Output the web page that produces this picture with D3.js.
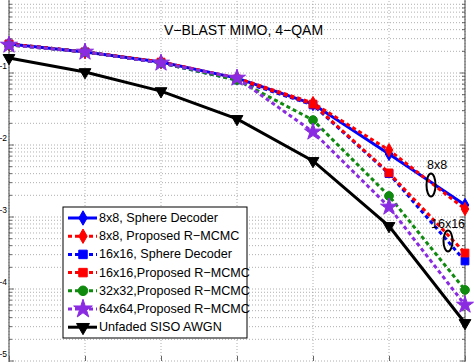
<!DOCTYPE html>
<html><head><meta charset="utf-8">
<script src="https://cdn.jsdelivr.net/npm/d3@7"></script>
<style>body{margin:0;background:#fff}svg{display:block}</style>
</head><body>
<svg id="c" width="474" height="362"></svg>
<script>
const snr = [0, 2, 4, 6, 8, 10, 12];
const ber8SD  = [0.253, 0.196, 0.142, 0.085, 0.037, 0.0075, 0.00147];
const ber8MC  = [0.253, 0.196, 0.142, 0.085, 0.0383, 0.0085, 0.00129];
const ber16SD = [0.253, 0.196, 0.138, 0.080, 0.036, 0.0040, 0.000245];
const ber16MC = [0.253, 0.196, 0.142, 0.0825, 0.037, 0.0041, 0.000316];
const ber32MC = [0.245, 0.196, 0.138, 0.080, 0.0222, 0.00196, 0.000097];
const ber64MC = [0.245, 0.196, 0.138, 0.0853, 0.0152, 0.00138, 0.000060];
const awgn    = [0.162, 0.103, 0.056, 0.023, 0.0060, 0.00075, 0.0000337];
const seriesNames = ["8x8, Sphere Decoder", "8x8, Proposed R\u2212MCMC", "16x16, Sphere Decoder",
  "16x16,Proposed R\u2212MCMC", "32x32,Proposed R\u2212MCMC", "64x64,Proposed R\u2212MCMC", "Unfaded SISO AWGN"];
const yTickLabels = ["-1", "-2", "-3", "-4", "-5"];
const title = "V\u2212BLAST MIMO, 4\u2212QAM";

const svg = d3.select("#c");
const x = d3.scaleLinear().domain([0, 12]).range([9, 465]);
const y = d3.scaleLog().domain([1, 1e-5]).range([1, 361]);

// grid
const g = svg.append("g");
const minor = [];
for (let e = 0; e > -5; e--) for (let m = 1; m < 10; m++) minor.push(m * Math.pow(10, e - 1));
g.selectAll("line.hg").data(minor).enter().append("line")
  .attr("x1", x(0)).attr("x2", x(12)).attr("y1", d => y(d)).attr("y2", d => y(d))
  .attr("stroke", "#9a9a9a").attr("stroke-width", 0.8).attr("stroke-dasharray", "1,2");
g.selectAll("line.vg").data(snr).enter().append("line")
  .attr("x1", d => x(d)).attr("x2", d => x(d)).attr("y1", y(1)).attr("y2", y(1e-5))
  .attr("stroke", "#9a9a9a").attr("stroke-width", 0.8).attr("stroke-dasharray", "1,2");

// axes
svg.append("line").attr("x1", x(0)).attr("x2", x(0)).attr("y1", 0).attr("y2", 362).attr("stroke", "#444").attr("stroke-width", 1);
svg.append("line").attr("x1", x(12)).attr("x2", x(12)).attr("y1", 0).attr("y2", 362).attr("stroke", "#444").attr("stroke-width", 1);
const majors = [1e-1, 1e-2, 1e-3, 1e-4, 1e-5];
const isMajor = d => majors.some(m => Math.abs(m - d) < m * 1e-6);
svg.selectAll("line.rt").data(minor).enter().append("line")
  .attr("x1", x(12)).attr("x2", d => x(12) - (isMajor(d) ? 5 : 3))
  .attr("y1", d => y(d)).attr("y2", d => y(d)).attr("stroke", "#444").attr("stroke-width", 0.8);
svg.selectAll("line.lt").data(minor).enter().append("line")
  .attr("x1", x(0)).attr("x2", d => x(0) + (isMajor(d) ? 5 : 3))
  .attr("y1", d => y(d)).attr("y2", d => y(d)).attr("stroke", "#444").attr("stroke-width", 0.8);
svg.append("g").attr("transform", "translate(0,361)")
  .call(d3.axisTop(x).tickValues(snr).tickSize(5).tickFormat(""))
  .call(s => s.select(".domain").remove())
  .call(s => s.selectAll("line").attr("stroke", "#666"));

svg.selectAll("text.yl").data(majors).enter().append("text")
  .attr("x", 7).attr("y", d => y(d) - 7).attr("text-anchor", "end").attr("dominant-baseline", "central")
  .attr("font-family", "Liberation Sans, Arial, sans-serif").attr("font-size", 8.5)
  .text((d, i) => yTickLabels[i]);

// title
svg.append("text").attr("x", 243.5).attr("y", 35).attr("text-anchor", "middle")
  .attr("font-family", "Liberation Sans, Arial, sans-serif").attr("font-size", 14).text(title);

// series
const series = [
  {v: ber8SD, c: "#0000ff", dash: null, sym: d3.symbolDiamond, size: 50, rot: 0},
  {v: ber8MC, c: "#ff0000", dash: "4,3", sym: d3.symbolDiamond, size: 50, rot: 0},
  {v: ber16SD, c: "#0000ff", dash: "4,3", sym: d3.symbolSquare, size: 60, rot: 0},
  {v: ber16MC, c: "#ff0000", dash: "4,3", sym: d3.symbolSquare, size: 60, rot: 0},
  {v: ber32MC, c: "#0f8a0f", dash: "4,3", sym: d3.symbolCircle, size: 60, rot: 0},
  {v: ber64MC, c: "#8a2be2", dash: "4,3", sym: d3.symbolStar, size: 90, rot: 0},
  {v: awgn, c: "#000000", dash: null, sym: d3.symbolTriangle, size: 60, rot: 180}
];
const line = d3.line().x((d, i) => x(snr[i])).y(d => y(d));
series.forEach(s => {
  const gs = svg.append("g");
  gs.append("path").attr("d", line(s.v)).attr("fill", "none").attr("stroke", s.c)
    .attr("stroke-width", 3).attr("stroke-dasharray", s.dash);
  gs.selectAll("path.m").data(s.v).enter().append("path")
    .attr("d", d3.symbol().type(s.sym).size(s.size))
    .attr("transform", (d, i) => `translate(${x(snr[i])},${y(d)}) rotate(${s.rot})`)
    .attr("fill", s.c).attr("stroke", s.c).attr("stroke-width", 1);
});

// annotations
const fnt = "Liberation Sans, Arial, sans-serif";
svg.append("text").attr("x", 427).attr("y", 169).attr("font-family", fnt).attr("font-size", 12.5).text("8x8");
svg.append("ellipse").attr("cx", 431).attr("cy", 185).attr("rx", 4.5).attr("ry", 11.5)
  .attr("fill", "none").attr("stroke", "#000").attr("stroke-width", 2);
svg.append("text").attr("x", 431).attr("y", 228).attr("font-family", fnt).attr("font-size", 12.5).text("16x16");
svg.append("ellipse").attr("cx", 448).attr("cy", 241).attr("rx", 4.5).attr("ry", 10.5)
  .attr("fill", "none").attr("stroke", "#000").attr("stroke-width", 2);

// legend
const lg = svg.append("g");
lg.append("rect").attr("x", 63).attr("y", 207).attr("width", 184).attr("height", 131)
  .attr("fill", "#fff").attr("stroke", "none");
seriesNames.forEach((n, i) => {
  const s = series[i];
  const yy = 218 + i * 18.2;
  lg.append("line").attr("x1", 68).attr("x2", 97).attr("y1", yy).attr("y2", yy)
    .attr("stroke", s.c).attr("stroke-width", 3).attr("stroke-dasharray", s.dash);
  lg.append("path").attr("d", d3.symbol().type(s.sym).size(s.size * 1.2))
    .attr("transform", `translate(83,${yy}) rotate(${s.rot})`).attr("fill", s.c).attr("stroke", s.c);
  lg.append("text").attr("x", 99).attr("y", yy).attr("dominant-baseline", "central")
    .attr("font-family", fnt).attr("font-size", 12.6).text(n);
});
lg.append("rect").attr("x", 63).attr("y", 207).attr("width", 184).attr("height", 131)
  .attr("fill", "none").attr("stroke", "#000").attr("stroke-width", 1);
</script>
</body></html>
